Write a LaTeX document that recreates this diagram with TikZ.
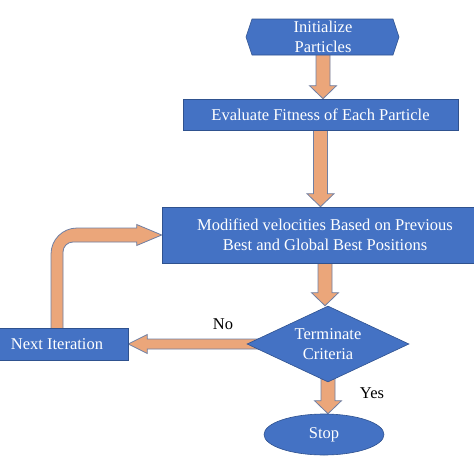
\documentclass[tikz,border=0pt]{standalone}
\usepackage{fontspec}
\setmainfont{Liberation Serif}
\usetikzlibrary{shapes.geometric,backgrounds,calc}
\definecolor{boxblue}{HTML}{4472C4}
\definecolor{boxedge}{HTML}{2F528F}
\definecolor{arrfill}{HTML}{EBA67A}
\definecolor{arredge}{HTML}{6F7FA3}
\newcommand\fatdown[3]{%
  \draw[fat,xshift=#3pt] let \p1=(#1.center), \p2=(#2.north) in
    (\x1-7pt,\y1) -- (\x1+7pt,\y1) -- (\x1+7pt,\y2+13pt) -- (\x1+13.5pt,\y2+13pt)
    -- (\x1,\y2) -- (\x1-13.5pt,\y2+13pt) -- (\x1-7pt,\y2+13pt) -- cycle;}
\begin{document}
\begin{tikzpicture}[x=1pt,y=1pt,
  box/.style={fill=boxblue,draw=boxedge,line width=0.6pt,text=white,
    font=\fontsize{16.5}{20}\selectfont,align=center,inner sep=0pt},
  fat/.style={fill=arrfill,draw=arredge,line width=0.8pt,line join=miter},
  lbl/.style={font=\fontsize{16.5}{20}\selectfont,text=black}]
\useasboundingbox (0,0) rectangle (474,-474);
% start hexagon
\draw[box] (246,-37) -- (252,-19) -- (393,-19) -- (399,-37) -- (393,-55) -- (252,-55) -- cycle;
\node[box,draw=none,fill=none] (init) at (323,-37) {Initialize\\Particles};
\node[box,minimum width=275,minimum height=31] (eval) at (320.5,-114.5) {Evaluate Fitness of Each Particle};
\node[box,minimum width=326,minimum height=56] (mod) at (325,-235) {Modified velocities Based on Previous\\Best and Global Best Positions};
\node[box,diamond,aspect=2.1,minimum width=162,minimum height=76] (crit) at (328,-344) {Terminate\\Criteria};
\node[box,ellipse,minimum width=120,minimum height=41] (stop) at (324,-434.5) {Stop};
\node[box,minimum width=142,minimum height=32] (next) at (57,-344) {Next Iteration};
\node[lbl] (no) at (223,-324) {No};
\node[lbl] (yes) at (372,-393) {Yes};
\begin{scope}[on background layer]
\fatdown{init}{eval}{0}
\fatdown{eval}{mod}{3}
\fatdown{mod}{crit}{0}
\fatdown{crit}{stop}{-5.5}
\draw[fat,yshift=-2pt] let \p1=(crit.center), \p2=(next.east) in
  (\x1,\y1+5pt) -- (\x2+19pt,\y1+5pt) -- (\x2+19pt,\y1+9.5pt) -- (\x2,\y1)
  -- (\x2+19pt,\y1-9.5pt) -- (\x2+19pt,\y1-5pt) -- (\x1,\y1-5pt) -- cycle;
\draw[fat] let \p1=(next.north), \p2=(mod.west) in
  (\x1-6pt,\y1-5pt) -- (\x1-6pt,\y2-19pt) arc[start angle=180,end angle=90,radius=26pt]
  -- (\x2-25pt,\y2+7pt) -- (\x2-25pt,\y2+10.5pt) -- (\x2,\y2) -- (\x2-25pt,\y2-10.5pt)
  -- (\x2-25pt,\y2-7pt) -- (\x1+16pt,\y2-7pt) arc[start angle=90,end angle=180,radius=10pt]
  -- (\x1+6pt,\y1-5pt) -- cycle;
\end{scope}
\end{tikzpicture}
\end{document}
